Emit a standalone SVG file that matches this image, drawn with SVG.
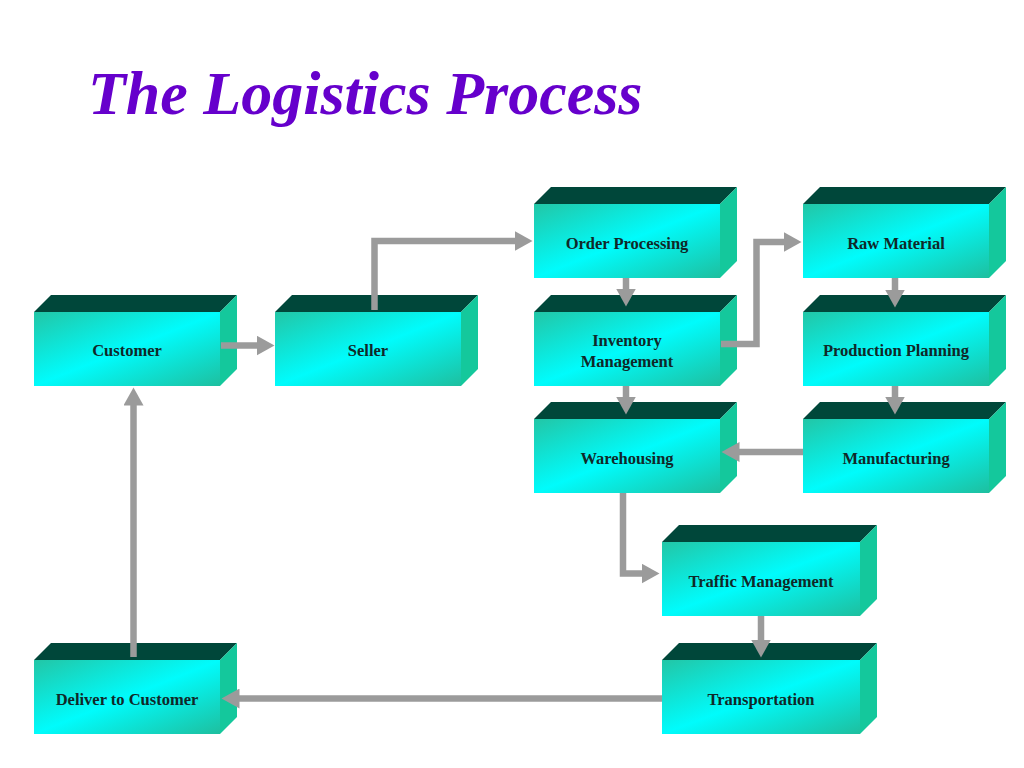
<svg xmlns="http://www.w3.org/2000/svg" width="1024" height="768" viewBox="0 0 1024 768">
<defs>
<linearGradient id="front" x1="0" y1="0" x2="1" y2="1">
<stop offset="0" stop-color="#22c6a6"/>
<stop offset="0.5" stop-color="#00fcfc"/>
<stop offset="1" stop-color="#1ebf9f"/>
</linearGradient>
<marker id="arr" markerUnits="userSpaceOnUse" markerWidth="20" markerHeight="20" refX="0.5" refY="10" orient="auto" viewBox="0 0 20 20">
<path d="M0,0 L18,10 L0,20 z" fill="#9b9b9b"/>
</marker>
<g id="box">
<path class="top" d="M0,0 L17,-17 L203,-17 L186,0 z"/>
<path class="side" d="M186,0 L203,-17 L203,57 L186,74 z"/>
<rect class="face" x="0" y="0" width="186" height="74"/>
</g>
<g id="boxw">
<path class="top" d="M0,0 L17,-17 L215,-17 L198,0 z"/>
<path class="side" d="M198,0 L215,-17 L215,57 L198,74 z"/>
<rect class="face" x="0" y="0" width="198" height="74"/>
</g>
</defs>
<style>
.top{fill:#00473a}
.side{fill:#14c89c}
.face{fill:url(#front)}
.lbl{font-family:"Liberation Serif","Times New Roman",serif;font-weight:bold;font-size:16.5px;fill:#102828;text-anchor:middle}
.title{font-family:"Liberation Serif","Times New Roman",serif;font-weight:bold;font-style:italic;font-size:62px;fill:#6600cc}
.conn{fill:none;stroke:#9b9b9b;stroke-width:6.5;marker-end:url(#arr)}
</style>
<rect width="1024" height="768" fill="#ffffff"/>
<text class="title" x="88" y="114">The Logistics Process</text>

<g id="customer"><use href="#box" x="34" y="312"/><text class="lbl" x="127" y="356">Customer</text></g>
<g id="seller"><use href="#box" x="275" y="312"/><text class="lbl" x="368" y="356">Seller</text></g>
<g id="order-processing"><use href="#box" x="534" y="204"/><text class="lbl" x="627" y="249">Order Processing</text></g>
<g id="inventory-management"><use href="#box" x="534" y="312"/><text class="lbl" x="627" y="346">Inventory</text><text class="lbl" x="627" y="367">Management</text></g>
<g id="warehousing"><use href="#box" x="534" y="419"/><text class="lbl" x="627" y="464">Warehousing</text></g>
<g id="raw-material"><use href="#box" x="803" y="204"/><text class="lbl" x="896" y="249">Raw Material</text></g>
<g id="production-planning"><use href="#box" x="803" y="312"/><text class="lbl" x="896" y="356">Production Planning</text></g>
<g id="manufacturing"><use href="#box" x="803" y="419"/><text class="lbl" x="896" y="464">Manufacturing</text></g>
<g id="traffic-management"><use href="#boxw" x="662" y="542"/><text class="lbl" x="761" y="587">Traffic Management</text></g>
<g id="transportation"><use href="#boxw" x="662" y="660"/><text class="lbl" x="761" y="705">Transportation</text></g>
<g id="deliver-to-customer"><use href="#box" x="34" y="660"/><text class="lbl" x="127" y="705">Deliver to Customer</text></g>

<g id="connectors">
<path class="conn" d="M221,345.5 H257"/>
<path class="conn" d="M374.5,310 V241 H515"/>
<path class="conn" d="M626,278 V289"/>
<path class="conn" d="M721,344 H756.5 V242 H784"/>
<path class="conn" d="M626,386 V397"/>
<path class="conn" d="M895,278 V290"/>
<path class="conn" d="M895,386 V397"/>
<path class="conn" d="M803,452 H739"/>
<path class="conn" d="M623,493 V573.5 H642"/>
<path class="conn" d="M761,616 V640"/>
<path class="conn" d="M662,698.5 H239"/>
<path class="conn" d="M133.5,657 V405"/>
</g>
</svg>
